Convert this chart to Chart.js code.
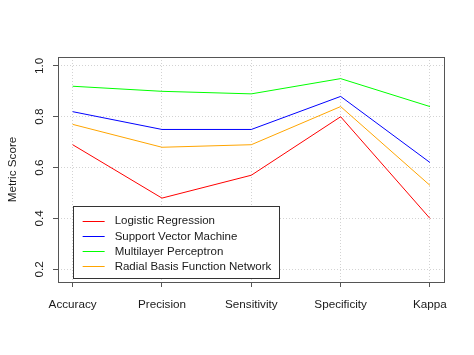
<!DOCTYPE html>
<html><head><meta charset="utf-8">
<script src="https://cdn.jsdelivr.net/npm/chart.js@4/dist/chart.umd.min.js"></script>
<style>html,body{margin:0;padding:0;background:#fff}#wrap{width:474px;height:355px}</style>
</head><body><div id="wrap"><canvas id="c" width="474" height="355"></canvas></div>
<script>
const categories = ['Accuracy','Precision','Sensitivity','Specificity','Kappa'];
const seriesNames = ['Logistic Regression','Support Vector Machine','Multilayer Perceptron','Radial Basis Function Network'];
const logisticRegression = [0.69,0.48,0.57,0.80,0.40];
const supportVectorMachine = [0.82,0.75,0.75,0.88,0.62];
const multilayerPerceptron = [0.92,0.90,0.89,0.95,0.84];
const radialBasisNetwork = [0.77,0.68,0.69,0.84,0.53];
const yTicks = [0.2,0.4,0.6,0.8,1.0];
const yTickLabels = ['0.2','0.4','0.6','0.8','1.0'];
const yTitle = 'Metric Score';

const seriesValues = [logisticRegression, supportVectorMachine, multilayerPerceptron, radialBasisNetwork];
const colors = ['#FF0000','#0000FF','#00FF00','#FFA500'];
const FONT = 'Arial, "Liberation Sans", sans-serif';
const TXT = '#1a1a1a';

const datasets = seriesValues.map((vals, i) => ({
  label: seriesNames[i],
  data: vals.map((v, j) => ({x: j + 1, y: v})),
  borderColor: colors[i],
  backgroundColor: colors[i],
  borderWidth: 1,
  pointRadius: 0,
  fill: false,
  tension: 0,
  order: i
}));

const rPlugin = {
  id: 'rstyle',
  afterDraw(chart) {
    const ctx = chart.ctx, ca = chart.chartArea;
    const xs = chart.scales.x, ys = chart.scales.y;
    ctx.save();
    // box
    ctx.strokeStyle = '#555';
    ctx.lineWidth = 1;
    ctx.strokeRect(Math.round(ca.left) + 0.5, Math.round(ca.top) + 0.5, Math.round(ca.right - ca.left), Math.round(ca.bottom - ca.top));
    // y tick labels (rotated)
    ctx.fillStyle = TXT;
    ctx.font = '11.7px ' + FONT;
    ctx.textAlign = 'center';
    ctx.textBaseline = 'alphabetic';
    yTicks.forEach((t, i) => {
      const py = ys.getPixelForValue(t);
      ctx.save();
      ctx.translate(43, py);
      ctx.rotate(-Math.PI / 2);
      ctx.fillText(yTickLabels[i], 0, 0);
      ctx.restore();
    });
    // y title
    ctx.save();
    ctx.translate(16, (ca.top + ca.bottom) / 2);
    ctx.rotate(-Math.PI / 2);
    ctx.fillText(yTitle, 0, 0);
    ctx.restore();
    // legend
    const lx = xs.getPixelForValue(1);
    const ly = ys.getPixelForValue(0.449);
    const lw = 206, lh = 72;
    ctx.fillStyle = '#fff';
    ctx.fillRect(Math.round(lx), Math.round(ly), lw, lh);
    ctx.strokeStyle = '#333';
    ctx.strokeRect(Math.round(lx) + 0.5, Math.round(ly) + 0.5, lw, lh);
    ctx.textAlign = 'left';
    ctx.textBaseline = 'middle';
    ctx.font = '11.5px ' + FONT;
    seriesNames.forEach((n, i) => {
      const ry = ly + 14.7 + i * 15.2;
      ctx.strokeStyle = colors[i];
      ctx.beginPath();
      ctx.moveTo(lx + 10, Math.round(ry) + 0.5);
      ctx.lineTo(lx + 32, Math.round(ry) + 0.5);
      ctx.stroke();
      ctx.fillStyle = TXT;
      ctx.fillText(n, lx + 42, ry + 0.5);
    });
    ctx.restore();
  }
};

new Chart(document.getElementById('c'), {
  type: 'line',
  data: { datasets },
  options: {
    responsive: false,
    devicePixelRatio: 1,
    animation: false,
    layout: { padding: { left: 0, right: 30, top: 57, bottom: 0 } },
    plugins: { legend: { display: false }, tooltip: { enabled: false } },
    scales: {
      x: {
        type: 'linear',
        min: 0.836,
        max: 5.157,
        afterBuildTicks: (s) => { s.ticks = categories.map((c, i) => ({ value: i + 1 })); },
        afterFit: (s) => { s.height = 73; },
        ticks: {
          autoSkip: false,
          maxRotation: 0,
          minRotation: 0,
          padding: 11,
          color: TXT,
          font: { family: FONT, size: 11.7 },
          callback: (v) => categories[Math.round(v) - 1]
        },
        grid: { color: '#d3d3d3', lineWidth: 1, tickColor: '#555', tickLength: 5, tickBorderDash: [], drawTicks: true },
        border: { display: false, dash: [1, 2] }
      },
      y: {
        type: 'linear',
        min: 0.15,
        max: 1.035,
        afterBuildTicks: (s) => { s.ticks = yTicks.map(v => ({ value: v })); },
        afterFit: (s) => { s.width = 58; },
        ticks: { display: false },
        grid: { color: '#d3d3d3', lineWidth: 1, tickColor: '#555', tickLength: 5, tickBorderDash: [], drawTicks: true },
        border: { display: false, dash: [1, 2] }
      }
    }
  },
  plugins: [rPlugin]
});
</script>
</body></html>
